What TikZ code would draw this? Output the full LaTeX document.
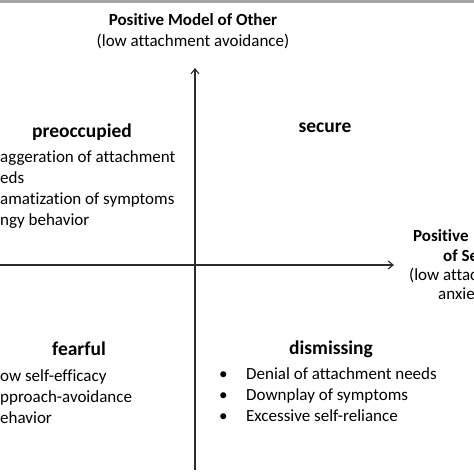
\documentclass[tikz,border=0pt]{standalone}
\usepackage{fontspec}
\setmainfont{Carlito}[Ligatures=NoCommon]
\usetikzlibrary{arrows.meta}
\definecolor{AxisGray}{HTML}{2B2B2B}
\definecolor{BarGray}{HTML}{A6A6A6}

\begin{document}
\begin{tikzpicture}[x=1pt, y=-1pt,
  txt/.style={inner sep=0pt, font=\fontsize{17}{20.7}\selectfont, align=left},
  head/.style={inner sep=0pt, font=\fontsize{17}{20.7}\selectfont\bfseries},
  quad/.style={inner sep=0pt, font=\fontsize{19.5}{23}\selectfont\bfseries},
  axis/.style={-{Straight Barb[length=5pt, width=8pt]}, line width=1.1pt, color=AxisGray}
]
\useasboundingbox[fill=white] (0,0) rectangle (474,474);
\fill[BarGray] (0,0) rectangle (474,2.5);

% axes
\coordinate (ybot) at (195,470);
\coordinate (ytop) at (195,68);
\coordinate (xleft) at (0,265);
\coordinate (xright) at (394,265);
\draw[axis] (ybot) -- (ytop);
\draw[axis] (xleft) -- (xright);

% axis titles
\node[head, anchor=base] (other) at (193,25) {Positive Model of Other};
\node[txt, anchor=base] (othersub) at (193,46) {(low attachment avoidance)};
\node[head, anchor=base west] (selfa) at (413,241) {Positive};
\node[head, anchor=base west] (selfb) at (443,261) {of Se};
\node[txt, anchor=base west] (selfc) at (409,280) {(low attac};
\node[txt, anchor=base west] (selfd) at (438,299) {anxie};

% quadrants (list nodes sit on their last line)
\node[quad, anchor=base] (preo) at (82,137) {preoccupied};
\node[txt, anchor=base west] (preolist) at (0,225)
  {aggeration of attachment\\eds\\amatization of symptoms\\ngy behavior};
\node[quad, anchor=base] (secure) at (325,132) {secure};
\node[quad, anchor=base] (fear) at (79,355) {fearful};
\node[txt, anchor=base west] (fearlist) at (0,423)
  {ow self-efficacy\\pproach-avoidance\\ehavior};
\node[quad, anchor=base] (dism) at (331,354) {dismissing};
\node[txt, anchor=base west] (dismlist) at (219,421)
  {\makebox[27pt][l]{\textbullet}Denial of attachment needs\\
   \makebox[27pt][l]{\textbullet}Downplay of symptoms\\
   \makebox[27pt][l]{\textbullet}Excessive self-reliance};
\end{tikzpicture}
\end{document}
